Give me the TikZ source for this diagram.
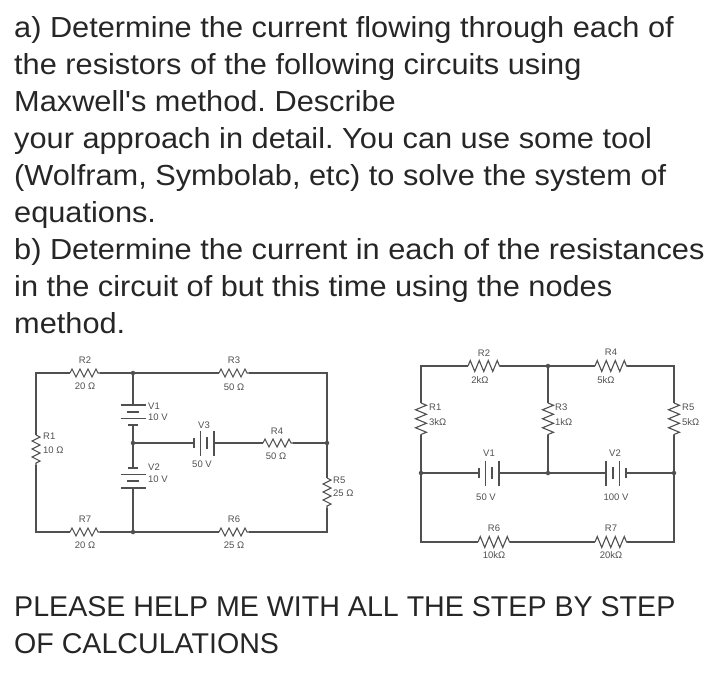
\documentclass[tikz,border=0pt]{standalone}
\usepackage{fontspec}
\setmainfont[FakeStretch=1.06,Ligatures=TeXOff]{Liberation Sans}
\newfontfamily\partfont{Liberation Sans}
\usetikzlibrary{decorations.pathmorphing}
\definecolor{wirecol}{HTML}{505050}
\definecolor{inkcol}{HTML}{262626}

\tikzset{
  LineStyle/.style = {anchor = base west, inner sep = 0pt, text = inkcol,
                      font = \fontsize{29}{30}\selectfont},
  CapsStyle/.style = {LineStyle, font = \partfont\fontsize{28.6}{30}\selectfont},
  PartStyle/.style = {inner sep = 0pt, text = wirecol,
                      font = \partfont\fontsize{9.5}{10}\selectfont},
  TagStyle/.style = {PartStyle, anchor = west},
  WireStyle/.style = {draw = wirecol, line width = 1.5pt},
  ZigStyle/.style = {draw = wirecol, line width = 1.1pt, decorate,
                     decoration = {zigzag, segment length = 8pt, amplitude = 4pt}},
  BigZigStyle/.style = {ZigStyle,
                     decoration = {zigzag, segment length = 9pt, amplitude = 5.5pt}},
  DotStyle/.style = {circle, fill = wirecol, inner sep = 0pt, minimum size = 4.5pt},
  res/.pic = {
    \coordinate (-a) at (-15,0);
    \coordinate (-b) at (15,0);
    \draw[ZigStyle] (-a) -- (-b);
  },
  bigres/.pic = {
    \coordinate (-a) at (-16,0);
    \coordinate (-b) at (16,0);
    \draw[BigZigStyle] (-a) -- (-b);
  },
  cell/.pic = {
    \coordinate (-a) at (-10,0);
    \coordinate (-b) at (10,0);
    \draw[WireStyle] (-10,-5) -- (-10,5);
    \draw[WireStyle] (-3.5,-12.5) -- (-3.5,12.5);
    \draw[WireStyle] (3,-6) -- (3,6);
    \draw[WireStyle] (10,-12.5) -- (10,12.5);
  }
}

\begin{document}
\frenchspacing
\begin{tikzpicture}[x=1pt,y=-1pt]
  \useasboundingbox (0,0) rectangle (711,675);

  % question text
  \node[LineStyle] (t1) at (14,37) {a) Determine the current flowing through each of};
  \node[LineStyle] (t2) at (14,74) {the resistors of the following circuits using};
  \node[LineStyle] (t3) at (14,111) {Maxwell's method. Describe};
  \node[LineStyle] (t4) at (14,148) {your approach in detail. You can use some tool};
  \node[LineStyle] (t5) at (14,185) {(Wolfram, Symbolab, etc) to solve the system of};
  \node[LineStyle] (t6) at (14,222) {equations.};
  \node[LineStyle] (t7) at (14,259) {b) Determine the current in each of the resistances};
  \node[LineStyle] (t8) at (14,296) {in the circuit of but this time using the nodes};
  \node[LineStyle] (t9) at (14,333) {method.};
  \node[CapsStyle] (t10) at (14,616) {PLEASE HELP ME WITH ALL THE STEP BY STEP};
  \node[CapsStyle] (t11) at (14,653) {OF CALCULATIONS};

  % left circuit
  \coordinate (a1) at (36,373);
  \coordinate (a2) at (327,373);
  \coordinate (a3) at (36,532);
  \coordinate (a4) at (327,532);
  \node[DotStyle] (ja) at (133,373) {};
  \node[DotStyle] (jb) at (133,443) {};
  \node[DotStyle] (jc) at (133,532) {};
  \node[DotStyle] (jd) at (327,443) {};

  \pic (ar2) at (85,373) {res};
  \pic (ar3) at (234,373) {res};
  \pic (ar4) at (278,443) {res};
  \pic (ar6) at (234,532) {res};
  \pic (ar7) at (85,532) {res};
  \pic[rotate=-90] (ar1) at (36,450) {res};
  \pic[rotate=-90] (ar5) at (327,493) {res};
  \pic[rotate=90] (av1) at (133,415) {cell};
  \pic[rotate=-90] (av2) at (133,478) {cell};
  \pic (av3) at (204,443) {cell};

  \draw[WireStyle] (ar1-a) -- (a1) -- (ar2-a);
  \draw[WireStyle] (ar2-b) -- (ja) -- (ar3-a);
  \draw[WireStyle] (ar3-b) -- (a2) -- (jd) -- (ar5-a);
  \draw[WireStyle] (ar5-b) -- (a4) -- (ar6-b);
  \draw[WireStyle] (ar6-a) -- (jc) -- (ar7-b);
  \draw[WireStyle] (ar7-a) -- (a3) -- (ar1-b);
  \draw[WireStyle] (ja) -- (av1-b);
  \draw[WireStyle] (av1-a) -- (jb) -- (av2-a);
  \draw[WireStyle] (av2-b) -- (jc);
  \draw[WireStyle] (jb) -- (av3-a);
  \draw[WireStyle] (av3-b) -- (ar4-a);
  \draw[WireStyle] (ar4-b) -- (jd);

  \node[PartStyle] (la2) at (85,360) {R2};
  \node[PartStyle] (lb2) at (85,386) {20 Ω};
  \node[PartStyle] (la3) at (234,360) {R3};
  \node[PartStyle] (lb3) at (234,387) {50 Ω};
  \node[PartStyle] (la4) at (277,431) {R4};
  \node[PartStyle] (lb4) at (276,456) {50 Ω};
  \node[PartStyle] (la7) at (85,519) {R7};
  \node[PartStyle] (lb7) at (85,545) {20 Ω};
  \node[PartStyle] (la6) at (234,519) {R6};
  \node[PartStyle] (lb6) at (234,545) {25 Ω};
  \node[TagStyle] (la1) at (43,436) {R1};
  \node[TagStyle] (lb1) at (43,450) {10 Ω};
  \node[TagStyle] (la5) at (333,480) {R5};
  \node[TagStyle] (lb5) at (333,493) {25 Ω};
  \node[TagStyle] (lv1) at (148,406) {V1};
  \node[TagStyle] (lw1) at (148,417) {10 V};
  \node[TagStyle] (lv2) at (148,467) {V2};
  \node[TagStyle] (lw2) at (148,479) {10 V};
  \node[PartStyle] (lv3) at (204,425) {V3};
  \node[PartStyle] (lw3) at (202,464) {50 V};

  % right circuit
  \coordinate (b1) at (421,366);
  \coordinate (b2) at (674,366);
  \coordinate (b3) at (421,542);
  \coordinate (b4) at (674,542);
  \node[DotStyle] (ka) at (548,366) {};
  \node[DotStyle] (kb) at (421,473) {};
  \node[DotStyle] (kc) at (548,473) {};
  \node[DotStyle] (kd) at (674,473) {};

  \pic (br2) at (484,366) {bigres};
  \pic (br4) at (611,366) {bigres};
  \pic (br6) at (494,542) {bigres};
  \pic (br7) at (611,542) {bigres};
  \pic[rotate=-90] (br1) at (421,419) {bigres};
  \pic[rotate=-90] (br3) at (548,419) {bigres};
  \pic[rotate=-90] (br5) at (674,419) {bigres};
  \pic (bv1) at (489,473) {cell};
  \pic[rotate=180] (bv2) at (616,473) {cell};

  \draw[WireStyle] (br1-a) -- (b1) -- (br2-a);
  \draw[WireStyle] (br2-b) -- (ka) -- (br4-a);
  \draw[WireStyle] (br4-b) -- (b2) -- (br5-a);
  \draw[WireStyle] (ka) -- (br3-a);
  \draw[WireStyle] (br1-b) -- (kb) -- (bv1-a);
  \draw[WireStyle] (bv1-b) -- (kc) -- (bv2-b);
  \draw[WireStyle] (br3-b) -- (kc);
  \draw[WireStyle] (bv2-a) -- (kd) -- (br5-b);
  \draw[WireStyle] (kb) -- (b3) -- (br6-a);
  \draw[WireStyle] (br6-b) -- (br7-a);
  \draw[WireStyle] (br7-b) -- (b4) -- (kd);

  \node[PartStyle] (ma2) at (484,353) {R2};
  \node[PartStyle] (mb2) at (480,380) {2kΩ};
  \node[PartStyle] (ma4) at (611,352) {R4};
  \node[PartStyle] (mb4) at (606,380) {5kΩ};
  \node[PartStyle] (ma6) at (494,528) {R6};
  \node[PartStyle] (mb6) at (494,555) {10kΩ};
  \node[PartStyle] (ma7) at (611,528) {R7};
  \node[PartStyle] (mb7) at (611,555) {20kΩ};
  \node[TagStyle] (ma1) at (429,407) {R1};
  \node[TagStyle] (mb1) at (429,422) {3kΩ};
  \node[TagStyle] (ma3) at (555,407) {R3};
  \node[TagStyle] (mb3) at (555,422) {1kΩ};
  \node[TagStyle] (ma5) at (682,407) {R5};
  \node[TagStyle] (mb5) at (682,422) {5kΩ};
  \node[PartStyle] (mv1) at (489,453) {V1};
  \node[PartStyle] (mw1) at (486,497) {50 V};
  \node[PartStyle] (mv2) at (615,453) {V2};
  \node[PartStyle] (mw2) at (616,497) {100 V};
\end{tikzpicture}
\end{document}
